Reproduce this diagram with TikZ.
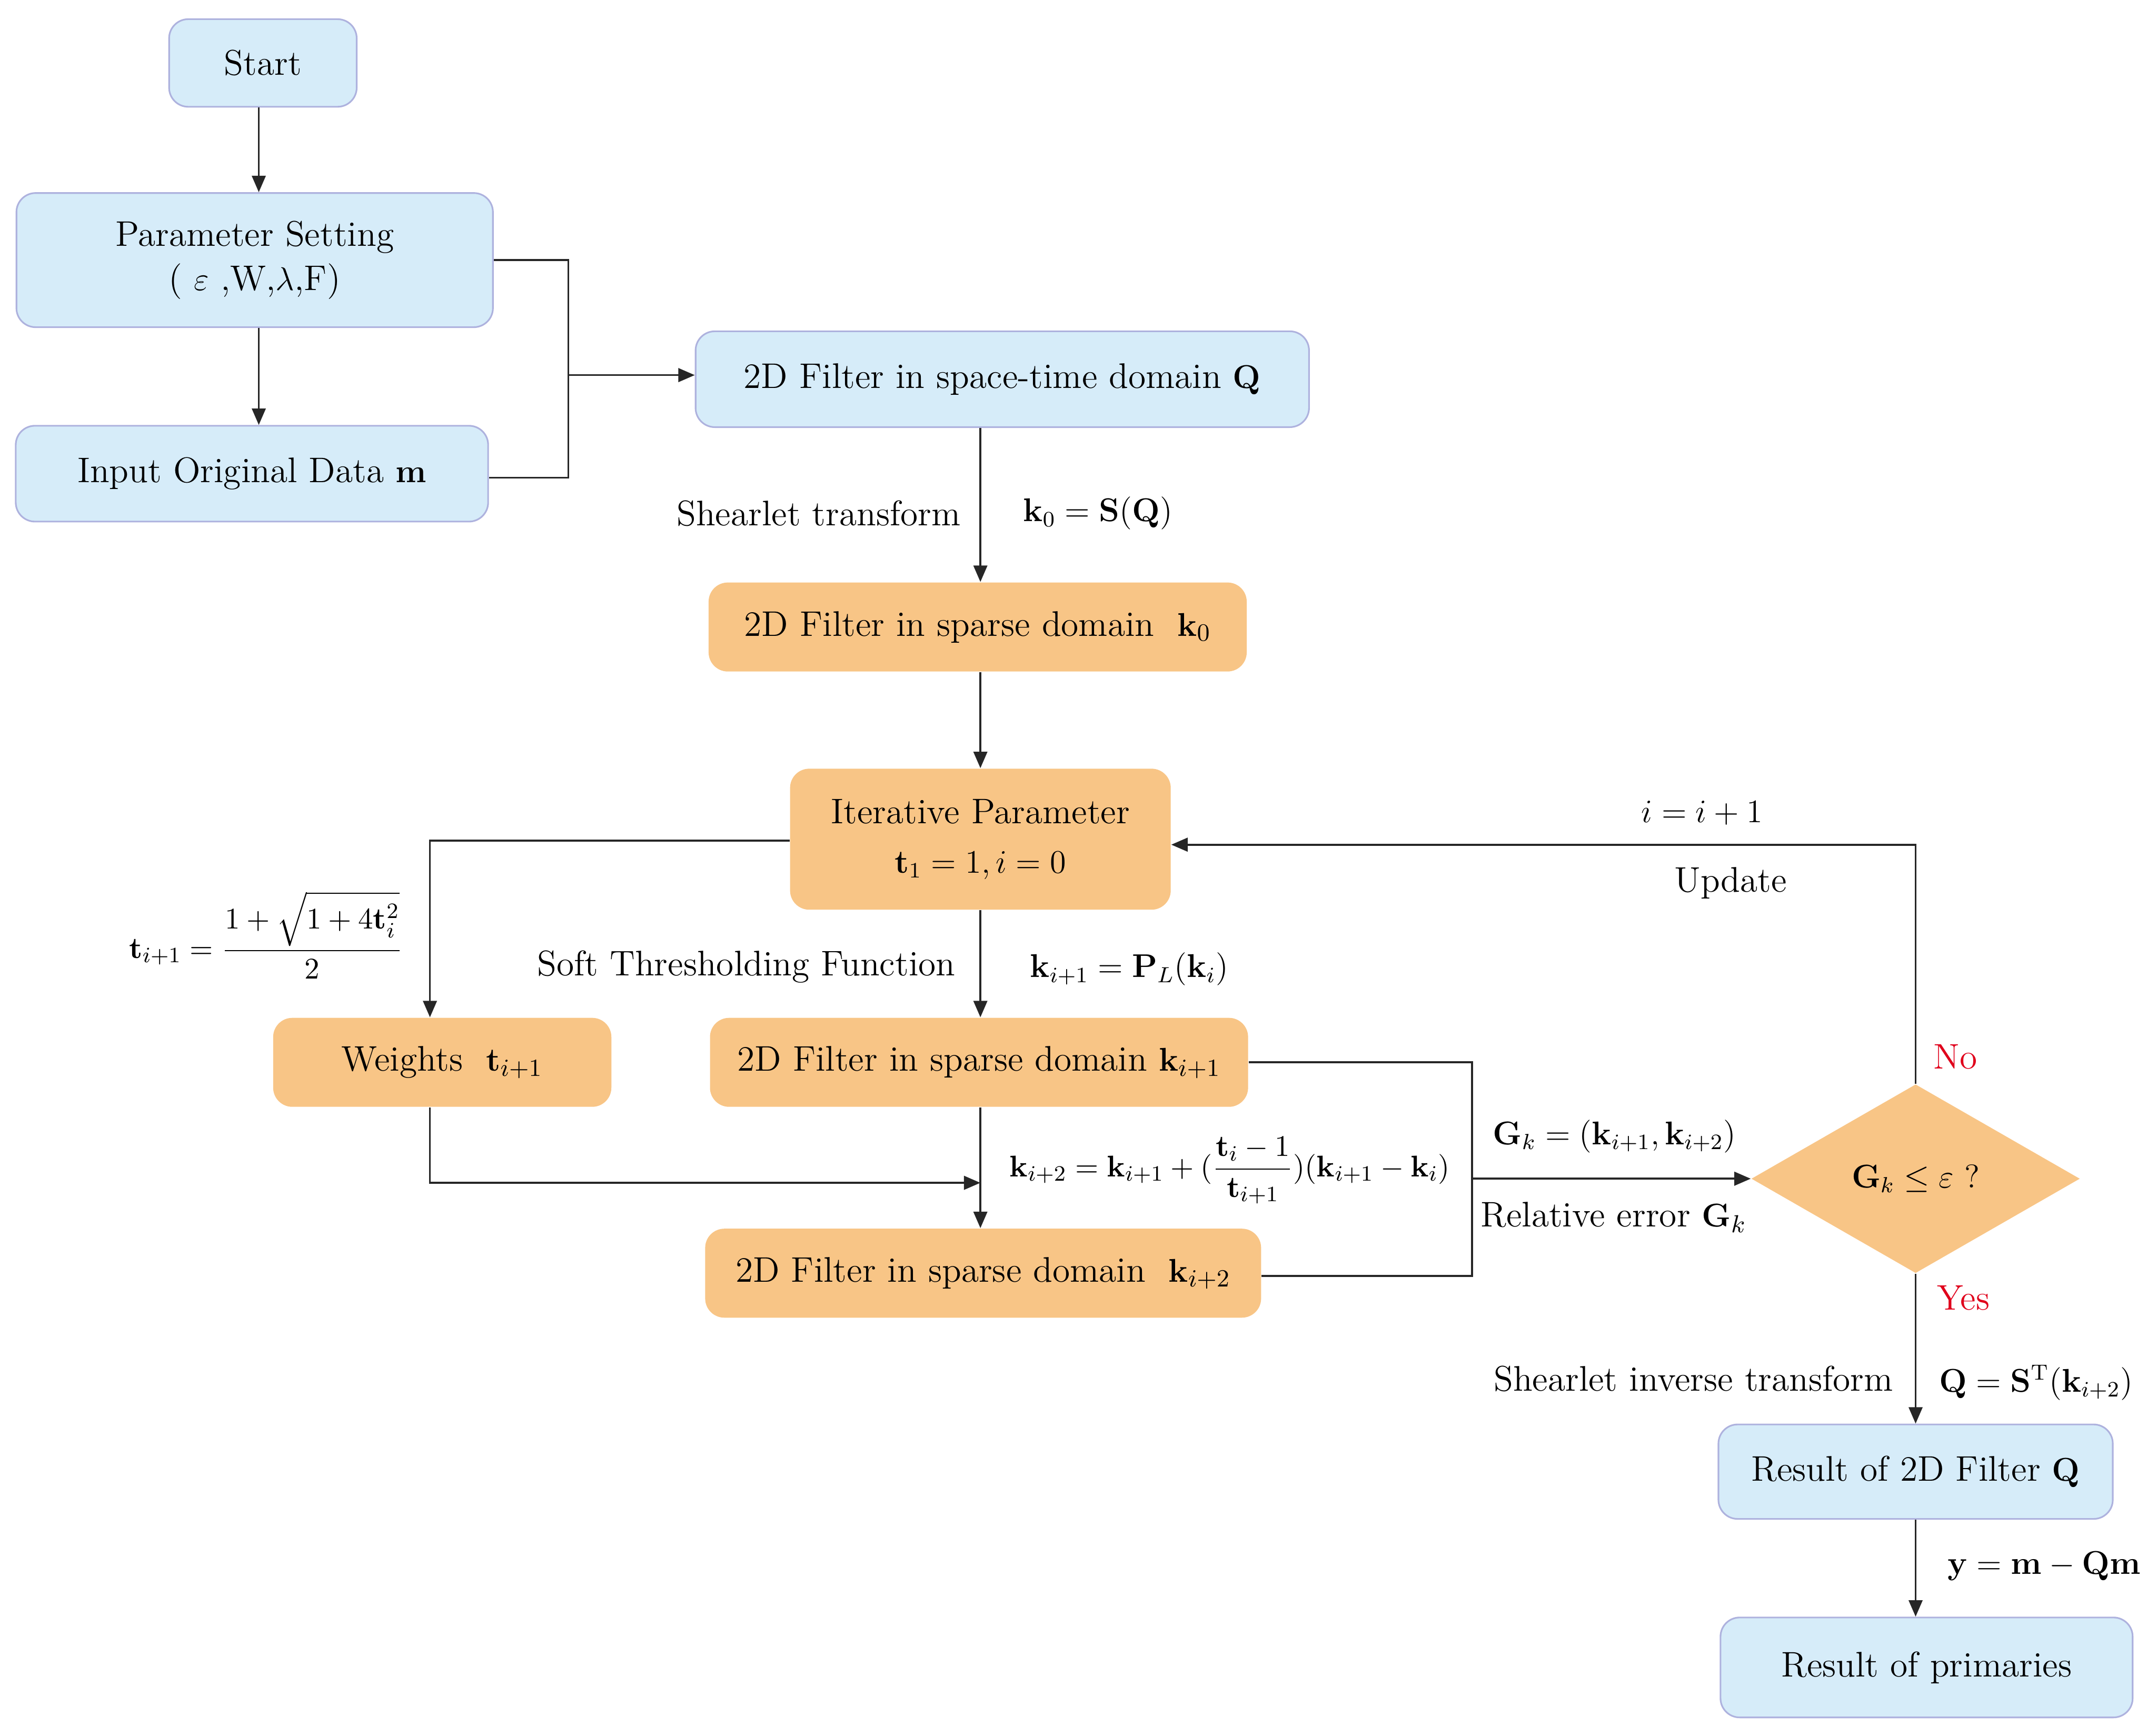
\documentclass[tikz,border=0pt]{standalone}
\usepackage{amsmath}
\usetikzlibrary{shapes.geometric,arrows.meta}
\definecolor{bfill}{HTML}{D6ECF9}
\definecolor{bdraw}{HTML}{AEB2DE}
\definecolor{ofill}{HTML}{F8C586}
\definecolor{lred}{HTML}{E0001B}
\begin{document}
\begin{tikzpicture}[x=0.5pt,y=-0.5pt,
  blue/.style={draw=bdraw,fill=bfill,rounded corners=7pt,line width=0.6pt,inner sep=0pt,font=\fontsize{13}{16}\selectfont,align=center},
  org/.style={fill=ofill,rounded corners=7pt,inner sep=0pt,font=\fontsize{13}{16}\selectfont,align=center},
  arr/.style={-{Triangle[length=6pt,width=5pt]},line width=0.7pt,draw=black!85},
  ln/.style={line width=0.7pt,draw=black!85},
  lab/.style={font=\fontsize{13}{16}\selectfont,inner sep=1pt},
  mlab/.style={font=\large,inner sep=1pt},
  flab/.style={font=\fontsize{11}{13}\selectfont,inner sep=1pt}]
\useasboundingbox (0,0) rectangle (1568,1268);
\node[blue,minimum width=68.5pt,minimum height=32pt] (start) at (192,46) {Start};
\node[blue,minimum width=174pt,minimum height=49pt] (param) at (186,190) {Parameter Setting\\( $\varepsilon$ ,W,$\lambda$,F)};
\node[blue,minimum width=172.5pt,minimum height=35pt] (input) at (184,346) {Input Original Data $\mathbf{m}$};
\node[blue,minimum width=224pt,minimum height=35pt] (st) at (732,277) {2D Filter in space-time domain $\mathbf{Q}$};
\node[org,minimum width=196.5pt,minimum height=32.5pt] (k0) at (714,458) {2D Filter in sparse domain~ $\mathbf{k}_0$};
\node[org,minimum width=139pt,minimum height=51.5pt] (it) at (716,613) {Iterative Parameter\\[2pt]{\large$\mathbf{t}_1=1, i=0$}};
\node[org,minimum width=123.5pt,minimum height=32.5pt] (w) at (323,776) {Weights~ $\mathbf{t}_{i+1}$};
\node[org,minimum width=196.5pt,minimum height=32.5pt] (k1) at (715,776) {2D Filter in sparse domain $\mathbf{k}_{i+1}$};
\node[org,minimum width=203pt,minimum height=32.5pt] (k2) at (718,930) {2D Filter in sparse domain~ $\mathbf{k}_{i+2}$};
\node[diamond,fill=ofill,minimum width=120pt,minimum height=69pt,inner sep=0pt,font=\large,aspect=1.74] (d) at (1399,861) {$\mathbf{G}_k\le\varepsilon$ ?};
\node[blue,minimum width=144pt,minimum height=34.5pt] (r1) at (1399,1075) {Result of 2D Filter $\mathbf{Q}$};
\node[blue,minimum width=150.5pt,minimum height=36.5pt] (r2) at (1407,1218) {Result of primaries};
\coordinate (j1) at (415,274);
\coordinate (j2) at (1075,861);
\coordinate (j3) at (716,864);
\draw[arr] (start.south-|189,0) -- (param.north-|189,0);
\draw[arr] (param.south-|189,0) -- (input.north-|189,0);
\draw[ln] (param.east|-0,190) -- (415,190) -- (415,349) -- (input.east|-0,349);
\draw[arr] (j1) -- (st.west|-j1);
\draw[arr] (st.south-|716,0) -- (k0.north-|716,0);
\draw[arr] (k0.south-|716,0) -- (it.north-|716,0);
\draw[arr] (it.west|-0,614) -- (314,614) -- (w.north-|314,0);
\draw[arr] (it) -- (k1.north-|716,0);
\draw[arr] (k1.south-|716,0) -- (k2.north-|716,0);
\draw[arr] (w.south-|314,0) -- (314,864) -- (j3);
\draw[ln] (k1.east) -- (1075,776) -- (1075,932) -- (k2.east|-0,932);
\draw[arr] (j2) -- (d.west);
\draw[arr] (d.north) -- (1399,617) -- (it.east|-0,617);
\draw[arr] (d.south) -- (r1.north-|1399,0);
\draw[arr] (r1.south-|1399,0) -- (r2.north-|1399,0);
\node[lab,anchor=east] (l1) at (704,375) {Shearlet transform};
\node[mlab,anchor=west] (l2) at (745,375) {$\mathbf{k}_0=\mathbf{S}(\mathbf{Q})$};
\node[lab,anchor=east] (l3) at (700,706) {Soft Thresholding Function};
\node[mlab,anchor=west] (l4) at (750,708) {$\mathbf{k}_{i+1}=\mathbf{P}_L(\mathbf{k}_i)$};
\node[flab,anchor=west] (l5) at (92,683) {$\mathbf{t}_{i+1}=\dfrac{1+\sqrt{1+4\mathbf{t}_i^2}}{2}$};
\node[flab,anchor=west] (l6) at (735,855) {$\mathbf{k}_{i+2}=\mathbf{k}_{i+1}+(\dfrac{\mathbf{t}_i-1}{\mathbf{t}_{i+1}})(\mathbf{k}_{i+1}-\mathbf{k}_i)$};
\node[mlab,anchor=west] (l7) at (1088,830) {$\mathbf{G}_k=(\mathbf{k}_{i+1},\mathbf{k}_{i+2})$};
\node[lab,anchor=west] (l8) at (1079,889) {Relative error $\mathbf{G}_k$};
\node[mlab] (l9) at (1243,594) {$i=i+1$};
\node[lab] (l10) at (1264,645) {Update};
\node[lab,text=lred] (l11) at (1428,772) {No};
\node[lab,text=lred] (l12) at (1434,948) {Yes};
\node[lab,anchor=east] (l13) at (1385,1007) {Shearlet inverse transform};
\node[mlab,anchor=west] (l14) at (1414,1010) {$\mathbf{Q}=\mathbf{S}^{\mathrm{T}}(\mathbf{k}_{i+2})$};
\node[mlab,anchor=west] (l15) at (1420,1144) {$\mathbf{y}=\mathbf{m}-\mathbf{Qm}$};
\end{tikzpicture}
\end{document}
